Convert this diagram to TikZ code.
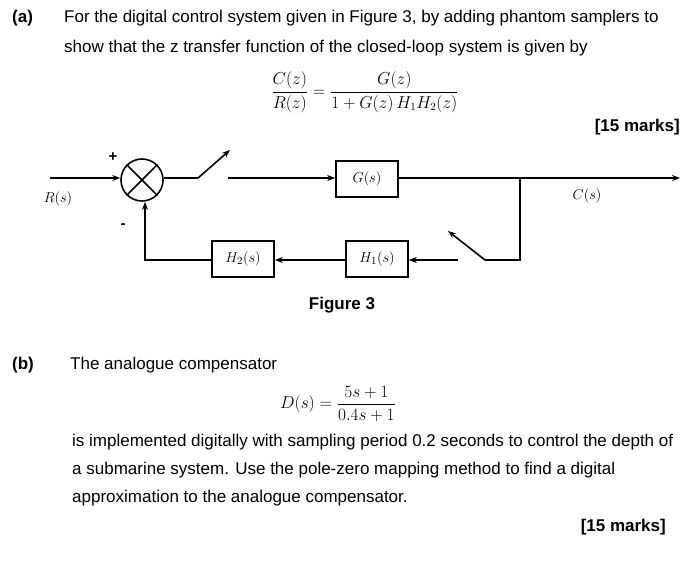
\documentclass[tikz,border=0pt]{standalone}
\usepackage{amsmath}
\usepackage{fontspec}
\setmainfont{Liberation Sans}
\usetikzlibrary{arrows.meta}
\begin{document}
\begin{tikzpicture}[x=1pt,y=-1pt,
  txt/.style={anchor=west,inner sep=0pt,font=\fontsize{17}{20}\selectfont},
  blk/.style={draw,line width=1.6pt,minimum width=62pt,minimum height=36pt,font=\fontsize{15}{17}\selectfont},
  ln/.style={line width=1.6pt},
  arr/.style={ln,-{Stealth[length=8pt,width=6pt]}}]
\useasboundingbox[fill=white] (0,0) rectangle (700,585);
\node[txt,font=\fontsize{17}{20}\bfseries] (la) at (12,18) {(a)};
\node[txt] (t1) at (64,18) {For the digital control system given in Figure 3, by adding phantom samplers to};
\node[txt] (t2) at (64,48) {show that the z transfer function of the closed-loop system is given by};
\node[inner sep=0pt,font=\fontsize{16}{18}\selectfont] (f1) at (365,92) {$\dfrac{C(z)}{R(z)}=\dfrac{G(z)}{1+G(z)\,H_1H_2(z)}$};
\node[txt,anchor=east,font=\fontsize{17}{20}\bfseries] (m1) at (680,127) {[15 marks]};
% diagram
\coordinate (in) at (50,178);
\node[draw,circle,line width=1.6pt,minimum size=42pt,inner sep=0pt] (sum) at (142,180) {};
\draw[ln] (sum.45)--(sum.225) (sum.135)--(sum.315);
\node[font=\fontsize{15}{17}\bfseries] (plus) at (113,157) {+};
\node[font=\fontsize{15}{17}\bfseries] (minus) at (123,226) {-};
\node[font=\fontsize{15}{17}\selectfont] (R) at (58,199) {$R(s)$};
\draw[arr] (in) -- (sum.west|-in);
\coordinate (s1a) at (198,178);
\coordinate (s1b) at (230,150);
\draw[ln] (sum.east|-in) -- (s1a);
\draw[arr] (s1a) -- (s1b);
\coordinate (s1c) at (228,178);
\node[blk] (G) at (367,179) {$G(s)$};
\draw[arr] (s1c) -- (G.west|-s1c);
\coordinate (out) at (680,178);
\draw[arr] (G.east|-out) -- (out);
\node[font=\fontsize{15}{17}\selectfont] (C) at (587,196) {$C(s)$};
\coordinate (br) at (520,178);
\coordinate (bb) at (520,260);
\coordinate (s2a) at (485,260);
\coordinate (s2b) at (448,231);
\draw[ln] (br) -- (bb) -- (s2a);
\draw[arr] (s2a) -- (s2b);
\coordinate (s2c) at (458,260);
\node[blk] (H1) at (377,259) {$H_1(s)$};
\node[blk] (H2) at (243,259) {$H_2(s)$};
\draw[arr] (s2c) -- (H1.east|-s2c);
\draw[arr] (H1.west|-s2c) -- (H2.east|-s2c);
\coordinate (fl) at (145,260);
\draw[arr] (H2.west|-fl) -- (fl) -- (sum.south-|fl);
\node[font=\fontsize{17}{20}\bfseries] (fig) at (342,305) {Figure 3};
% part b
\node[txt,font=\fontsize{17}{20}\bfseries] (lb) at (12,365) {(b)};
\node[txt] (b1) at (70,365) {The analogue compensator};
\node[inner sep=0pt,font=\fontsize{16}{18}\selectfont] (f2) at (338,404) {$D(s)=\dfrac{5s+1}{0.4s+1}$};
\node[txt] (b2) at (72,442) {is implemented digitally with sampling period 0.2 seconds to control the depth of};
\node[txt] (b3) at (72,470) {a submarine system. Use the pole-zero mapping method to find a digital};
\node[txt] (b4) at (72,498) {approximation to the analogue compensator.};
\node[txt,anchor=east,font=\fontsize{17}{20}\bfseries] (m2) at (666,527) {[15 marks]};
\end{tikzpicture}
\end{document}
